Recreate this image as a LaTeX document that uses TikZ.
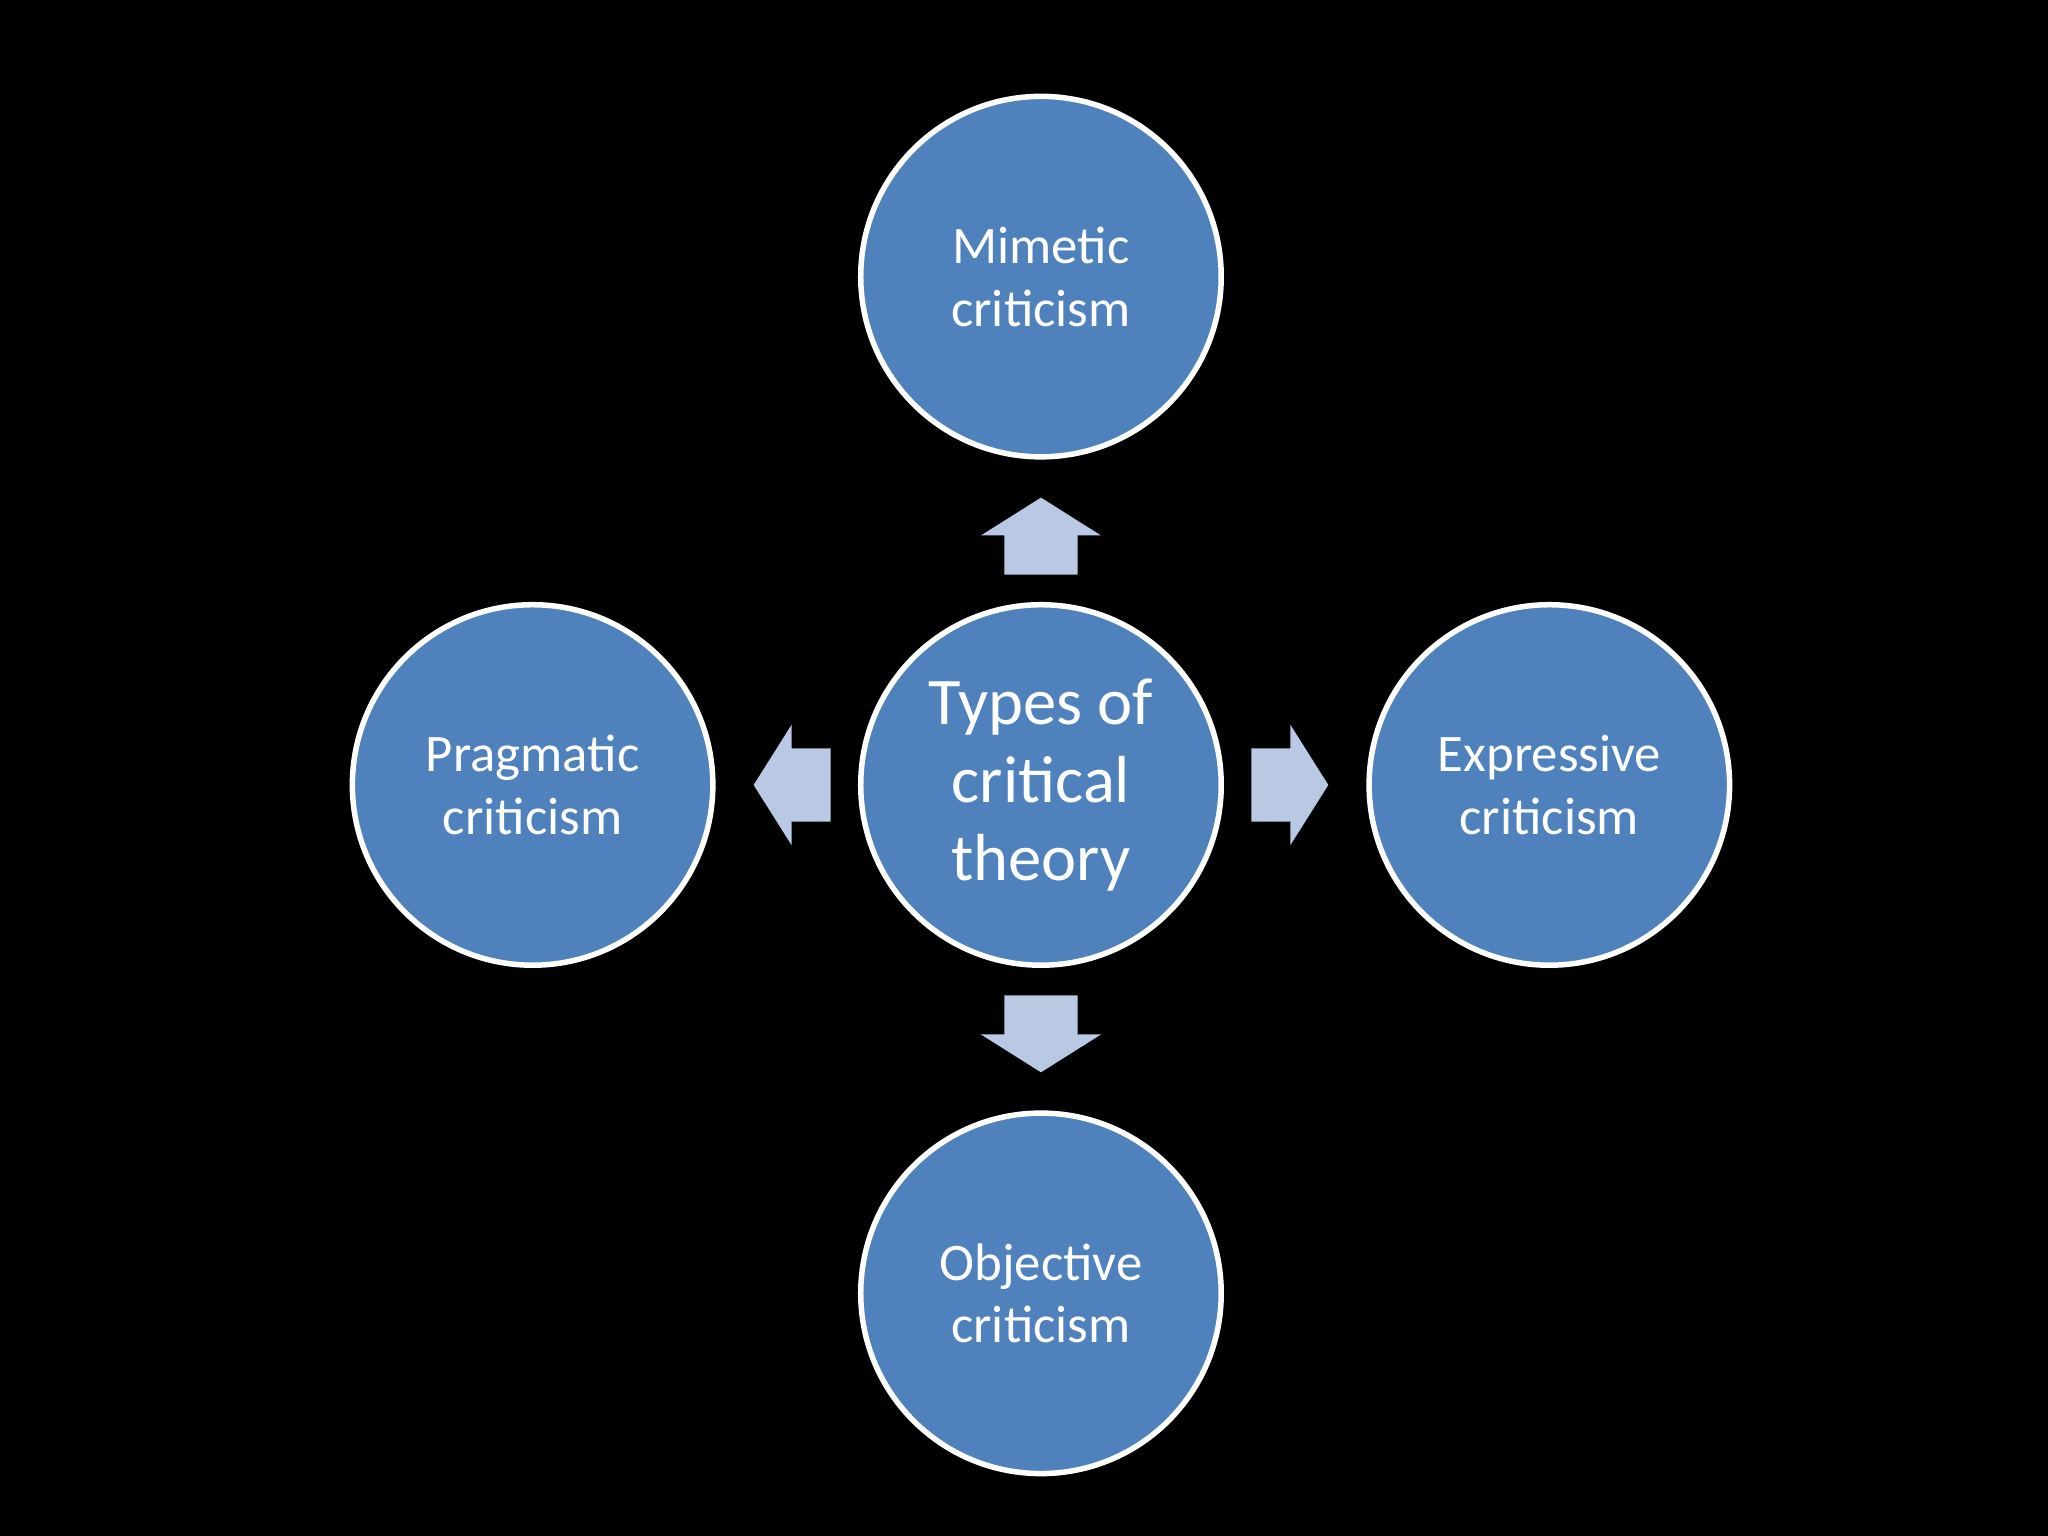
\documentclass[tikz,border=0pt]{standalone}
\usepackage{fontspec}
\setmainfont{Carlito}
\usetikzlibrary{positioning}
\definecolor{circblue}{HTML}{4F81BD}
\definecolor{arrowblue}{HTML}{B9C9E3}
\tikzset{
  topic/.style={circle, draw=white, line width=1.2pt, fill=circblue,
    minimum size=2.76cm, inner sep=0pt, text=white, align=center,
    font=\fontsize{11.5}{13.7}\selectfont},
  hub/.style={topic, font=\fontsize{14.5}{17}\selectfont},
  blockarrow/.style={fill=arrowblue, draw=none}
}
\begin{document}
\begin{tikzpicture}
  \fill[black] (-7.97,-5.75) rectangle (7.71,6.01);
  \useasboundingbox (-7.97,-5.75) rectangle (7.71,6.01);

  \node[hub](Types) at (0,0) {Types of\\critical\\theory};
  \node[topic, above=1.09cm of Types](Mimetic) {Mimetic\\criticism};
  \node[topic, below=1.09cm of Types](Objective) {Objective\\criticism};
  \node[topic, left=1.09cm of Types](Pragmatic) {Pragmatic\\criticism};
  \node[topic, right=1.09cm of Types](Expressive) {Expressive\\criticism};

  % block arrows pointing out of the hub
  \foreach \ang in {90,0,-90,180}
    \fill[blockarrow, rotate=\ang]
      (1.61,-0.28) -- (1.91,-0.28) -- (1.91,-0.46) -- (2.20,0)
      -- (1.91,0.46) -- (1.91,0.28) -- (1.61,0.28) -- cycle;
\end{tikzpicture}
\end{document}
